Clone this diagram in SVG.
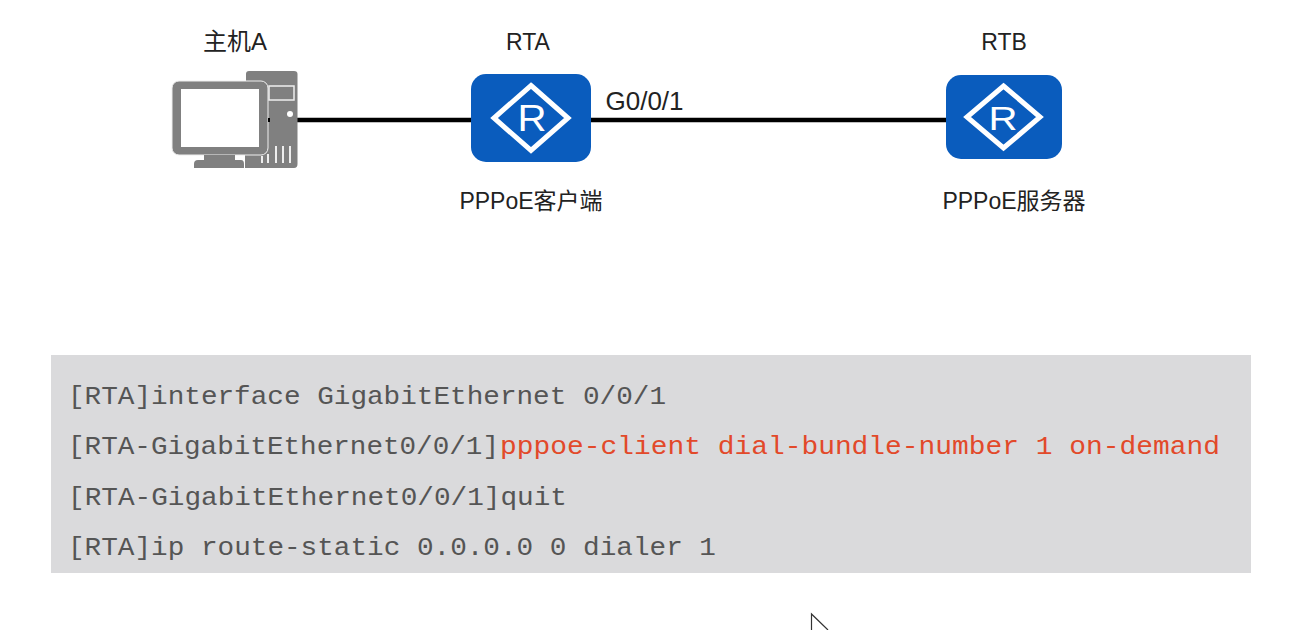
<svg xmlns="http://www.w3.org/2000/svg" width="1305" height="630" viewBox="0 0 1305 630">
<style>
.l{font-family:"Liberation Sans","Noto Sans CJK SC",sans-serif;font-size:23px;fill:#222;text-anchor:middle}
.c{font-family:"Liberation Mono",monospace;font-size:25.5px;fill:#555}
.r{fill:#e2492a}
.bd{fill:#0a5cbd}
.dg{fill:none;stroke:#fff;stroke-width:5}
.rr{font-family:"Liberation Sans",sans-serif;fill:#fff;text-anchor:middle}
.pc{fill:#808080}
</style>
<rect width="1305" height="630" fill="#fff"/>
<g id="connectors" stroke="#000" stroke-width="4.5">
<line x1="297" y1="120" x2="472" y2="120"/>
<line x1="590" y1="120" x2="946" y2="120"/>
</g>
<g id="hostA">
<path class="pc" d="M249 71H294Q297.500 71 297.500 74V164Q297.500 168 294 168H245V150H268V91Q268 82 259 81H246V74Q246 71 249 71Z"/>
<rect x="269" y="86" width="25" height="14" fill="none" stroke="#eee" stroke-width="1.500"/>
<circle cx="290" cy="114" r="3" fill="#fff"/>
<path d="M276 146v17M283 146v17M290 146v17M262 156v7M268 154v9" stroke="#eee" stroke-width="2" fill="none"/>
<rect x="172" y="81" width="96" height="74" rx="7" class="pc" stroke="#eee" stroke-width="1"/>
<rect x="181" y="89" width="78" height="58" fill="#fff"/>
<rect x="204" y="155" width="31" height="5" class="pc"/>
<path class="pc" d="M198 160H241Q244 160 244 164V168H194V164Q194 160 198 160Z"/>
<line x1="268" y1="120" x2="270" y2="120" stroke="#000" stroke-width="4"/>
<text class="l" x="235" y="50" style="font-size:24px">主机A</text>
</g>
<g id="RTA">
<rect class="bd" x="471" y="74" width="120" height="88" rx="15"/>
<path class="dg" d="M531 85.500L568 118L531 150.500L494 118Z"/>
<text class="rr" x="532" y="131" style="font-size:37px" textLength="29" lengthAdjust="spacingAndGlyphs">R</text>
<text class="l" x="528" y="50">RTA</text>
<text class="l" x="531" y="209">PPPoE客户端</text>
</g>
<text class="l" x="644.500" y="110" style="font-size:26px">G0/0/1</text>
<g id="RTB">
<rect class="bd" x="946" y="75" width="116" height="84" rx="15"/>
<path class="dg" d="M1003.500 86L1040 117L1003.500 148L967 117Z"/>
<text class="rr" x="1003" y="130" style="font-size:34px" textLength="29" lengthAdjust="spacingAndGlyphs">R</text>
<text class="l" x="1004" y="50">RTB</text>
<text class="l" x="1014" y="209">PPPoE服务器</text>
</g>
<g id="config">
<rect x="51" y="355" width="1200" height="218" fill="#dadadc"/>
<text class="c" x="68" y="404" textLength="598" lengthAdjust="spacingAndGlyphs">[RTA]interface GigabitEthernet 0/0/1</text>
<text class="c" x="68" y="454" textLength="431" lengthAdjust="spacingAndGlyphs">[RTA-GigabitEthernet0/0/1]</text>
<text class="c r" x="500" y="454" textLength="720" lengthAdjust="spacingAndGlyphs">pppoe-client dial-bundle-number 1 on-demand</text>
<text class="c" x="68" y="505" textLength="499" lengthAdjust="spacingAndGlyphs">[RTA-GigabitEthernet0/0/1]quit</text>
<text class="c" x="68" y="555" textLength="648" lengthAdjust="spacingAndGlyphs">[RTA]ip route-static 0.0.0.0 0 dialer 1</text>
</g>
<path d="M811.500 630V614L828 630" fill="#fff" stroke="#333" stroke-width="1.200"/>
</svg>
